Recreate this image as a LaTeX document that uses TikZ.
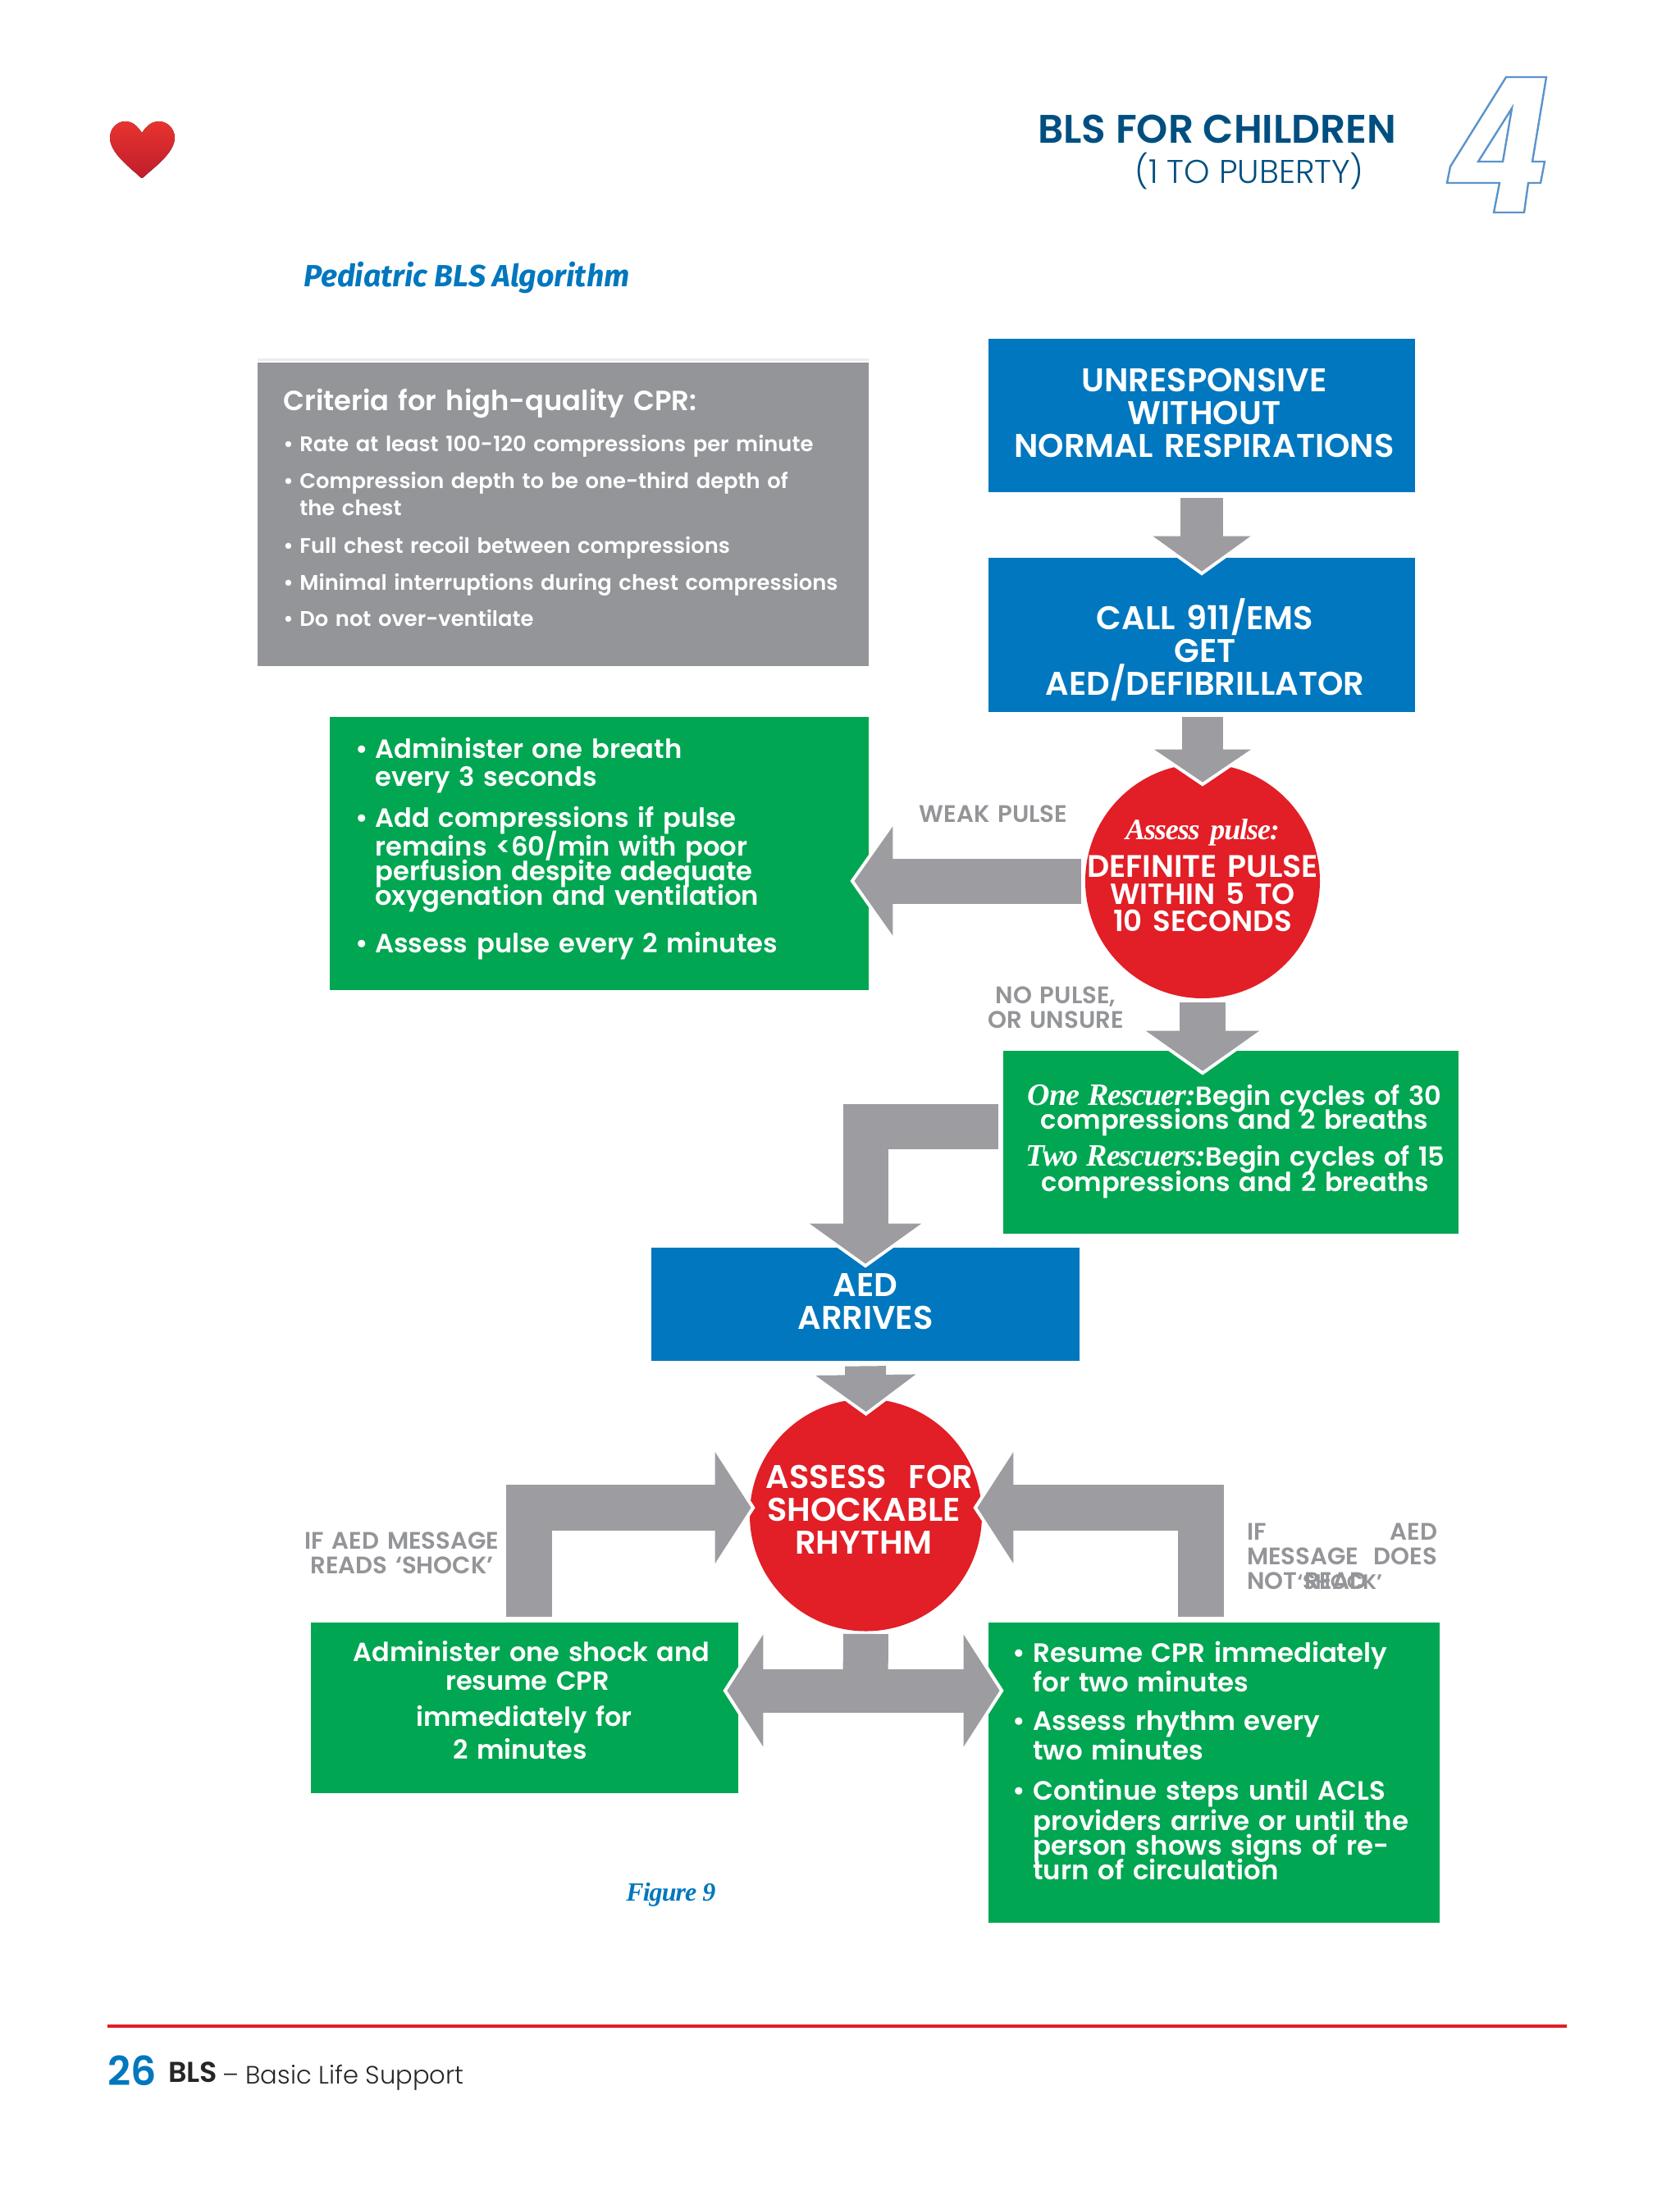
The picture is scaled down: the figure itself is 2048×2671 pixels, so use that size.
\documentclass[tikz,border=0pt]{standalone}
\usepackage{fontspec}
\setmainfont{Poppins}[BoldFont=Poppins SemiBold]
\newfontfamily\lightfont{Poppins Light}
\newfontfamily\headfont{Fira Sans}
\newfontfamily\seriffont{Liberation Serif}[LetterSpace=-3]
\usetikzlibrary{arrows.meta,positioning,shapes.geometric,calc}
\definecolor{bluebox}{HTML}{0077BE}
\definecolor{greenbox}{HTML}{00A651}
\definecolor{redbox}{HTML}{E21E26}
\definecolor{graybox}{HTML}{939598}
\definecolor{arrowgray}{HTML}{9D9DA1}
\definecolor{labelgray}{HTML}{939598}
\definecolor{titleblue}{HTML}{004F80}
\definecolor{fourblue}{HTML}{5B93CC}
\definecolor{hearttop}{HTML}{E8332F}
\definecolor{heartlow}{HTML}{BF1E2C}
\newcommand{\bul}{\makebox[12pt][l]{•}}
\newcommand{\ind}{\hspace*{12pt}}
\newcommand{\sbul}{\makebox[10pt][l]{•}}
\lineskiplimit=-100pt
\normallineskiplimit=-100pt
\begin{document}
\begin{tikzpicture}[x=0.5pt,y=-0.5pt,
    block/.style={rectangle, inner sep=0pt},
    bluebk/.style={block, fill=bluebox},
    greenbk/.style={block, fill=greenbox},
    redbk/.style={circle, inner sep=0pt, minimum size=#1, fill=redbox},
    bodytext/.style={anchor=base west, inner sep=0pt, text=white, align=left, text width=#1},
    centertext/.style={anchor=base, inner sep=0pt, text=white, align=center, text width=#1},
    capstext/.style={centertext=255pt, font=\fontsize{20}{20}\selectfont\bfseries},
    sidelabel/.style={anchor=base, inner sep=0pt, text=labelgray, align=center, text width=#1,
                  font=\fontsize{14.6}{15}\selectfont\bfseries},
    blockarrow/.style n args={4}{draw=arrowgray, line width=#1, line join=miter,
                  -{Triangle[length=#2,width=#3]}, shorten >=#4,
                  preaction={draw=white, shorten >=#4-2.5pt}},
    twoway/.style n args={4}{draw=arrowgray, line width=#1,
                  {Triangle[length=#2,width=#3]}-{Triangle[length=#2,width=#3]},
                  shorten <=#4, shorten >=#4,
                  preaction={draw=white, shorten <=#4-2.5pt, shorten >=#4-2.5pt}}
]
\useasboundingbox (0,0) rectangle (2048,2671);
\fill[white] (0,0) rectangle (2048,2671);

\fill[top color=hearttop, bottom color=heartlow]
    (173,162) .. controls (167,153) and (161,148) .. (153,148)
    .. controls (142,148) and (134,157) .. (134,168)
    .. controls (134,186) and (158,204) .. (170,215)
    .. controls (172,217.5) and (174,217.5) .. (176,215)
    .. controls (188,204) and (213,186) .. (213,168)
    .. controls (213,157) and (204,148) .. (194,148)
    .. controls (185,148) and (179,153) .. (173,162) -- cycle;

\node[anchor=base west, inner sep=0pt, text=titleblue, font=\fontsize{24.3}{28}\selectfont\bfseries]
    (title) at (1265,174) {BLS FOR CHILDREN};
\node[anchor=base west, inner sep=0pt, text=titleblue, font=\fontsize{20}{24}\selectfont\lightfont]
    (subtitle) at (1383,223) {(1 TO PUBERTY)};
\draw[fourblue, line width=1.2pt, line join=miter]
    (1836,94) -- (1885,94) -- (1868,197) -- (1883,197) -- (1878,223) -- (1863,223)
    -- (1858,259) -- (1821,259) -- (1828,223) -- (1764,223) -- (1768,203) -- cycle
    (1843,132) -- (1802,197) -- (1832,197) -- cycle;
\node[anchor=base west, inner sep=0pt, text=bluebox, font=\fontsize{18.7}{22}\selectfont\headfont\bfseries\itshape]
    (algo) at (370,349) {Pediatric BLS Algorithm};

\draw[gray!15, line width=1.5pt] (314,438) -- (1059,438);
\node[block, fill=graybox, minimum width=372.5pt, minimum height=185pt] (criteria) at (686.5,627) {};
\node[bodytext=350pt, font=\fontsize{16.9}{20}\selectfont\bfseries] (criteriaHead) at (345,500) {Criteria for high-quality CPR:};
\node[bodytext=365pt, font=\fontsize{12.9}{16.5}\selectfont\bfseries] (criteriaText) at (345,550)
    {\sbul Rate at least 100-120 compressions per minute\\[6pt]
     \sbul Compression depth to be one-third depth of\\
     \hspace*{10pt}the chest\\[6.5pt]
     \sbul Full chest recoil between compressions\\[6pt]
     \sbul Minimal interruptions during chest compressions\\[5.5pt]
     \sbul Do not over-ventilate};

\node[bluebk, minimum width=260pt, minimum height=93.5pt] (respond) at (1465,506.5) {};
\node[capstext] (respondText) at (1468,477) {UNRESPONSIVE\\WITHOUT\\NORMAL RESPIRATIONS};
\node[bluebk, minimum width=260pt, minimum height=94pt] (call) at (1465,774) {};
\node[capstext] (callText) at (1469,767) {CALL 911/EMS\\GET\\AED/DEFIBRILLATOR};

\node[greenbk, minimum width=328.5pt, minimum height=166.5pt] (breath) at (730.5,1040.5) {};
\node[bodytext=310pt, font=\fontsize{16.1}{15}\selectfont\bfseries] (breathText) at (433,924)
    {\bul Administer one breath\\[2pt]
     \ind every 3 seconds\\[10pt]
     \bul Add compressions if pulse\\[2.5pt]
     \ind remains <60/min with poor\\
     \ind perfusion despite adequate\\
     \ind oxygenation and ventilation\\[14pt]
     \bul Assess pulse every 2 minutes};

\node[redbk=143pt] (pulse) at (1466,1074) {};
\node[centertext=165pt, font=\fontsize{19}{16.5}\selectfont\bfseries] (pulseText) at (1466,1023)
    {{\fontsize{18}{16.5}\seriffont\itshape Assess pulse:}\\[6.5pt]
     DEFINITE PULSE\\{\fontsize{17.8}{16.5}\selectfont WITHIN 5 TO}\\{\fontsize{17.8}{16.5}\selectfont 10 SECONDS}};

\node[greenbk, minimum width=277.5pt, minimum height=111.5pt] (rescue) at (1500.5,1392.5) {};
\node[centertext=275pt, font=\fontsize{16}{14.5}\selectfont\bfseries] (rescueOne) at (1505,1347)
    {{\fontsize{19}{14.5}\seriffont\itshape One Rescuer:}Begin cycles of 30\\compressions and 2 breaths};
\node[centertext=275pt, font=\fontsize{16}{15.5}\selectfont\bfseries] (rescueTwo) at (1506,1421)
    {{\fontsize{19}{15.5}\seriffont\itshape Two Rescuers:}Begin cycles of 15\\compressions and 2 breaths};

\node[bluebk, minimum width=261pt, minimum height=69pt] (aed) at (1055,1590) {};
\node[capstext] (aedText) at (1055,1580) {AED\\ARRIVES};

\node[redbk=141.5pt] (rhythm) at (1055.5,1847) {};
\node[capstext] (rhythmText) at (1053,1814) {\hspace*{7pt}ASSESS\ \ FOR\\SHOCKABLE\\RHYTHM};

\node[greenbk, minimum width=260.5pt, minimum height=104pt] (shock) at (639.5,2082) {};
\node[centertext=250pt, font=\fontsize{16}{17.5}\selectfont\bfseries] (shockText) at (639,2025)
    {\hspace*{9pt}Administer one shock and\\\hspace*{4pt}resume CPR\\[4.5pt]immediately for\\[2.5pt]2 minutes\hspace*{5pt}};

\node[greenbk, minimum width=275pt, minimum height=183pt] (resume) at (1480,2161) {};
\node[bodytext=270pt, font=\fontsize{16.2}{15}\selectfont\bfseries] (resumeText) at (1234,2026)
    {\makebox[12.5pt][l]{•}Resume CPR immediately\\[3pt]
     \hspace*{12.5pt}for two minutes\\[8.5pt]
     \makebox[12.5pt][l]{•}Assess rhythm every\\[3pt]
     \hspace*{12.5pt}two minutes\\[9.5pt]
     \makebox[12.5pt][l]{•}Continue steps until ACLS\\[3.5pt]
     \hspace*{12.5pt}providers arrive or until the\\
     \hspace*{12.5pt}person shows signs of re-\\
     \hspace*{12.5pt}turn of circulation};

\node[sidelabel=130pt] (weak) at (1211,1002) {WEAK PULSE};
\node[sidelabel=130pt] (nopulse) at (1287,1223) {NO PULSE,\\OR UNSURE};
\node[sidelabel=130pt] (ifshock) at (490,1888) {IF AED MESSAGE\\READS ‘SHOCK’};
\node[sidelabel=116pt, align=left] (ifnot) at (1636,1877)
    {IF\hfill AED\\MESSAGE\hfill DOES\\NOT\rlap{\hspace{4.5pt}READ}{\fontsize{12.7}{15}\selectfont ‘SHOCK’}};

\node[anchor=base west, inner sep=0pt, text=bluebox, font=\fontsize{16}{18}\selectfont\seriffont\bfseries\itshape]
    (figure) at (763,2317) {Figure 9};

\coordinate (barleft) at (shock.east |- 0,2061);
\coordinate (barright) at (resume.west |- 0,2061);
\coordinate (barmid) at (1055,2061);

\draw[blockarrow={26pt}{21.5pt}{58.5pt}{-8.5pt}, shorten <=3.5pt] (respond.south) -- (call.north);
\draw[blockarrow={25pt}{20pt}{58pt}{-11.5pt}, shorten <=3pt] (call.south -| pulse.north) -- (pulse.north);
\draw[blockarrow={27.5pt}{23.5pt}{65.5pt}{-9pt}, shorten <=2.5pt] (pulse.west) -- (pulse.west -| breath.east);
\draw[blockarrow={28pt}{24.5pt}{68pt}{-12.5pt}, shorten <=2.5pt] (pulse.south) -- (pulse.south |- rescue.north);
\draw[blockarrow={27.5pt}{24.5pt}{67pt}{-10pt}, shorten <=3pt] ([yshift=9.5pt]rescue.west) -| (aed.north);
\draw[blockarrow={25pt}{22.5pt}{60pt}{-8pt}, shorten <=3pt] (aed.south) -- (rhythm.north);
\draw[blockarrow={28pt}{22pt}{67pt}{-1pt}] ([shift={(2.5pt,3.5pt)}]shock.north) |- ([yshift=4.5pt]rhythm.west);
\draw[blockarrow={28pt}{22pt}{67pt}{-3pt}] ([shift={(-8pt,3.5pt)}]resume.north) |- ([yshift=4.5pt]rhythm.east);
\draw[twoway={26.5pt}{22pt}{67.5pt}{-7pt}] (barleft) -- (barright);
\draw[draw=arrowgray, line width=27.5pt, shorten <=1.5pt] (rhythm.south) -- (barmid);

\draw[redbox, line width=1.75pt] (131,2470) -- (1910,2470);
\node[anchor=base west, inner sep=0pt, text=bluebox, font=\fontsize{24.5}{28}\selectfont\bfseries]
    (pagenum) at (131,2542) {26};
\node[anchor=base west, inner sep=0pt, text=black!85, font=\fontsize{17.5}{20}\selectfont\bfseries]
    (bls) at (205,2538) {BLS};
\node[anchor=base west, inner sep=0pt, text=black!85, font=\fontsize{15.3}{18}\selectfont\lightfont]
    (blsrest) at (271,2540) {– Basic Life Support};
\end{tikzpicture}
\end{document}
